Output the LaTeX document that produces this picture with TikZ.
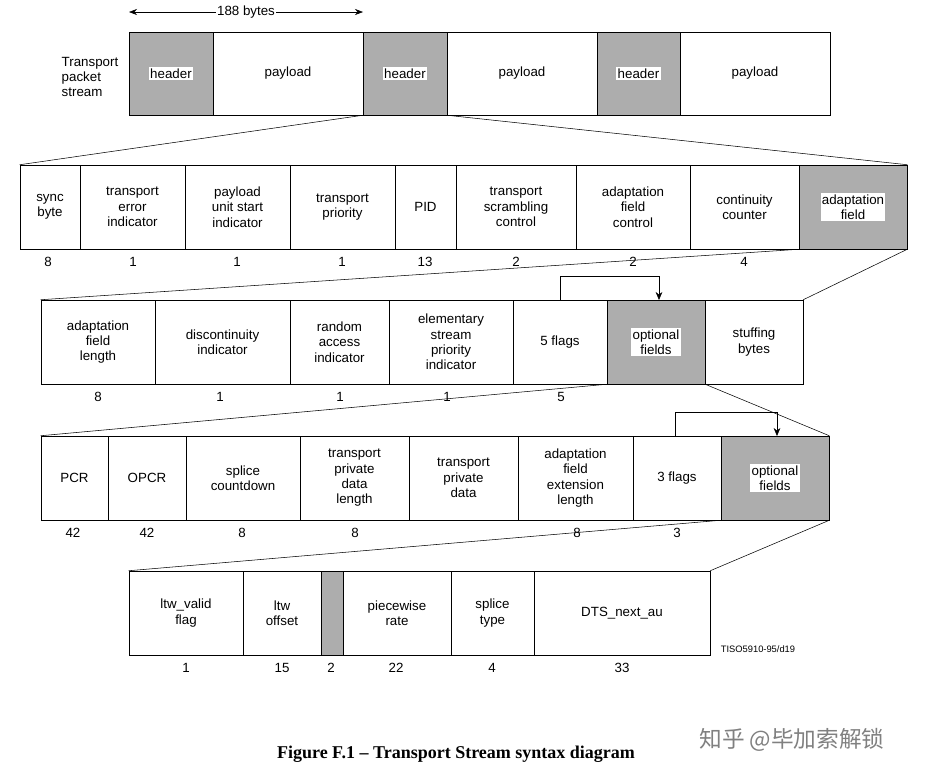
\documentclass[tikz,border=0pt]{standalone}
\usepackage{fontspec}
\setmainfont{Liberation Sans}
\newfontfamily\capfont{Liberation Serif}
\newfontfamily\cjk{Noto Sans CJK SC}
\usetikzlibrary{arrows.meta}
\tikzset{
 cellbox/.style={draw, thin, inner sep=0pt, align=center, font=\fontsize{10}{11.5}\selectfont},
 graycell/.style={cellbox, fill=black!32},
 hl/.style={fill=white, inner sep=1pt, align=center, font=\fontsize{10}{11.5}\selectfont},
 num/.style={font=\fontsize{10}{11}\selectfont, inner sep=0pt},
 conn/.style={thin},
 arr/.style={thin, -{Stealth[length=6pt,width=5pt]}}
}
\newcommand\mkcell[7]{\node[#1, minimum width={(#4-#3)*0.75pt}, minimum height={(#6-#5)*0.75pt}] (#2) at ({(#3+#4)/2},{(#5+#6)/2}) {#7};}
\begin{document}
\begin{tikzpicture}[x=0.75pt,y=-0.75pt]
\useasboundingbox (0,0) rectangle (929,779);
% row 1
\node[num, align=left, font=\fontsize{10}{11.5}\selectfont] (tps) at (90,77) {Transport\\packet\\stream};
\mkcell{graycell}{h1}{129}{213}{32}{115}{}
\mkcell{cellbox}{p1}{213}{363}{32}{115}{payload}
\mkcell{graycell}{h2}{363}{447}{32}{115}{}
\mkcell{cellbox}{p2}{447}{597}{32}{115}{payload}
\mkcell{graycell}{h3}{597}{680}{32}{115}{}
\mkcell{cellbox}{p3}{680}{830}{32}{115}{payload}
\foreach \n in {h1,h2,h3} \node[hl] at (\n) {header};
\coordinate (b1) at (129,12); \coordinate (b2) at (363,12);
\draw[{Stealth[length=6pt]}-{Stealth[length=6pt]}] (b1) -- node[fill=white,num,inner sep=1pt] (bl) {188 bytes} (b2);
% row 2
\mkcell{cellbox}{a1}{20}{80}{165}{249}{sync\\byte}
\mkcell{cellbox}{a2}{80}{185}{165}{249}{transport\\error\\indicator}
\mkcell{cellbox}{a3}{185}{290}{165}{249}{payload\\unit start\\indicator}
\mkcell{cellbox}{a4}{290}{395}{165}{249}{transport\\priority}
\mkcell{cellbox}{a5}{395}{456}{165}{249}{PID}
\mkcell{cellbox}{a6}{456}{576}{165}{249}{transport\\scrambling\\control}
\mkcell{cellbox}{a7}{576}{690}{165}{249}{adaptation\\field\\control}
\mkcell{cellbox}{a8}{690}{799}{165}{249}{continuity\\counter}
\mkcell{graycell}{a9}{799}{907}{165}{249}{}
\node[hl] at (a9) {adaptation\\field};
\foreach \x/\t in {48/8,133/1,237/1,342/1,425/13,516/2,633/2,744/4} \node[num] at (\x,262) {\t};
\draw[conn] (h2.south west) -- (a1.north west);
\draw[conn] (h2.south east) -- (a9.north east);
% row 3
\mkcell{cellbox}{c1}{41}{155}{300}{384}{adaptation\\field\\length}
\mkcell{cellbox}{c2}{155}{290}{300}{384}{discontinuity\\indicator}
\mkcell{cellbox}{c3}{290}{389}{300}{384}{random\\access\\indicator}
\mkcell{cellbox}{c4}{389}{513}{300}{384}{elementary\\stream\\priority\\indicator}
\mkcell{cellbox}{c5}{513}{607}{300}{384}{5 flags}
\mkcell{graycell}{c6}{607}{705}{300}{384}{}
\mkcell{cellbox}{c7}{705}{803}{300}{384}{stuffing\\bytes}
\node[hl] at (c6) {optional\\fields};
\foreach \x/\t in {98/8,220/1,340/1,447/1,561/5} \node[num] at (\x,397) {\t};
\draw[conn] (a9.south west) -- (c1.north west);
\draw[conn] (a9.south east) -- (c7.north east);
\coordinate (k1) at (560,300); \coordinate (k2) at (659,300);
\draw[arr] (k1) -- ++(0,-24) -| (k2);
% row 4
\mkcell{cellbox}{d1}{41}{108}{436}{520}{PCR}
\mkcell{cellbox}{d2}{108}{186}{436}{520}{OPCR}
\mkcell{cellbox}{d3}{186}{300}{436}{520}{splice\\countdown}
\mkcell{cellbox}{d4}{300}{409}{436}{520}{transport\\private\\data\\length}
\mkcell{cellbox}{d5}{409}{518}{436}{520}{transport\\private\\data}
\mkcell{cellbox}{d6}{518}{633}{436}{520}{adaptation\\field\\extension\\length}
\mkcell{cellbox}{d7}{633}{721}{436}{520}{3 flags}
\mkcell{graycell}{d8}{721}{829}{436}{520}{}
\node[hl] at (d8) {optional\\fields};
\foreach \x/\t in {73/42,147/42,242/8,355/8,577/8,677/3} \node[num] at (\x,533) {\t};
\draw[conn] (c6.south west) -- (d1.north west);
\draw[conn] (c6.south east) -- (d8.north east);
\coordinate (m1) at (675,436); \coordinate (m2) at (777,436);
\draw[arr] (m1) -- ++(0,-24) -| (m2);
% row 5
\mkcell{cellbox}{e1}{129}{243}{571}{655}{ltw\_valid\\flag}
\mkcell{cellbox}{e2}{243}{321}{571}{655}{ltw\\offset}
\mkcell{graycell}{e3}{321}{343}{571}{655}{}
\mkcell{cellbox}{e4}{343}{451}{571}{655}{piecewise\\rate}
\mkcell{cellbox}{e5}{451}{534}{571}{655}{splice\\type}
\mkcell{cellbox}{e6}{534}{710}{571}{655}{DTS\_next\_au}
\foreach \x/\t in {186/1,282/15,331/2,396/22,492/4,622/33} \node[num] at (\x,668) {\t};
\draw[conn] (d8.south west) -- (e1.north west);
\draw[conn] (d8.south east) -- (e6.north east);
\node[num, font=\fontsize{7}{8}\selectfont] (tiso) at (758,649) {TISO5910-95/d19};
\node[font=\capfont\bfseries\fontsize{13.5}{15}\selectfont] (cap) at (456,754) {Figure F.1 – Transport Stream syntax diagram};
\node[font=\cjk\fontsize{17}{19}\selectfont, text=black!50] (wm) at (792,740) {知乎 @毕加索解锁};
\end{tikzpicture}
\end{document}
